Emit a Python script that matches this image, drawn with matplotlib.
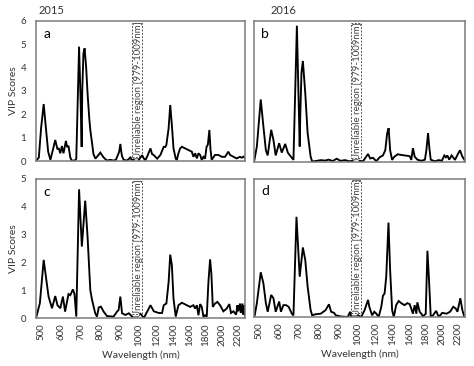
import numpy as np
import matplotlib
matplotlib.use("Agg")
import matplotlib.pyplot as plt
from matplotlib.patches import Rectangle
import matplotlib.transforms as mtransforms

plt.rcParams['font.family'] = ['Lato', 'DejaVu Sans']

nan = float('nan')

# ---------------- data ----------------
wl_a = [480, 492, 503, 516, 527, 538, 549, 562, 573, 584, 590, 598, 606, 614, 626, 632, 639, 648, 655, 672, 678,
        692, 700, 705, 708, 714, 720, 728, 735, 744, 749, 758, 765, 775, 785, 800, 817, 834, 851, 868, 880, 890,
        897, 903, 908, 912, 921, 939, 950, 957, 962, 975, nan,
        1003, 1040, 1059, 1078, 1097, 1133, 1150, 1170, 1208, 1246, 1284, 1303, 1315, 1341, 1360, 1379, 1398,
        1425, 1438, 1458, 1479, 1500, 1539, 1580, 1621, 1641, 1663, 1684, 1704, 1725, 1746, 1766, 1787, 1805,
        1822, 1841, 1855, 1870, 1912, 1954, 1996, 2037, 2077, 2098, 2140, 2180, 2220, 2240, 2265, 2282]
vip_a = [0.02, 0.15, 1.4, 2.44, 1.4, 0.4, 0.05, 0.5, 0.9, 0.5, 0.55, 0.33, 0.64, 0.33, 0.86, 0.6, 0.65, 0.15, 0.02, 0.02, 0.1,
         4.9, 2.5, 0.6, 3.0, 4.6, 4.83, 4.0, 2.9, 1.8, 1.33, 0.76, 0.3, 0.1, 0.2, 0.36, 0.15, 0.02, 0.05, 0.02, 0.05, 0.25,
         0.4, 0.73, 0.4, 0.2, 0.05, 0.02, 0.1, 0.17, 0.05, 0.05, nan,
         0.05, 0.25, 0.1, 0.05, 0.2, 0.54, 0.3, 0.25, 0.1, 0.26, 0.61, 0.6, 0.69, 1.4, 2.4, 1.54, 0.54,
         0.1, 0.04, 0.33, 0.54, 0.61, 0.54, 0.47, 0.4, 0.18, 0.33, 0.11, 0.33, 0.26, 0.04, 0.18, 0.1, 0.6,
         0.7, 1.33, 0.5, 0.05, 0.26, 0.26, 0.18, 0.18, 0.4, 0.26, 0.18, 0.11, 0.18, 0.14, 0.19, 0.12]

wl_b = [480, 492, 511, 524, 536, 545, 562, 573, 584, 601, 614, 631, 644, 659, 672, 689, 703, 706, 712, 719, 731,
        743, 758, 766, 790, 810, 830, 850, 870, 890, 910, 935, 955, 975, nan,
        1022, 1060, 1116, 1140, 1170, 1208, 1245, 1284, 1311, 1333, 1350, 1367, 1390, 1418, 1458, 1500, 1539,
        1600, 1621, 1641, 1663, 1696, 1746, 1790, 1808, 1829, 1845, 1862, 1912, 1960, 2000, 2030, 2050, 2067,
        2090, 2119, 2160, 2200, 2221, 2250, 2275]
vip_b = [0.09, 0.66, 2.66, 1.51, 0.5, 0.28, 1.37, 0.94, 0.28, 0.8, 0.4, 0.77, 0.4, 0.23, 0.09, 5.8, 0.66, 2.0, 3.8, 4.3, 2.94,
         1.23, 0.23, 0.02, 0.05, 0.08, 0.06, 0.1, 0.04, 0.14, 0.05, 0.08, 0.03, 0.05, nan,
         0.05, 0.03, 0.34, 0.15, 0.18, 0.03, 0.2, 0.28, 0.5, 1.23, 1.44, 0.5, 0.09, 0.23, 0.33, 0.3, 0.28,
         0.25, 0.09, 0.59, 0.23, 0.1, 0.05, 0.1, 0.5, 1.23, 0.6, 0.1, 0.03, 0.08, 0.05, 0.28, 0.2, 0.28,
         0.1, 0.28, 0.09, 0.37, 0.5, 0.23, 0.09]

wl_c = [480, 497, 516, 529, 540, 557, 573, 584, 598, 611, 622, 639, 648, 661, 669, 678, 692, 706, 723, 735, 749,
        758, 774, 783, 792, 803, 817, 834, 868, 886, 894, 903, 912, 930, 948, 966, nan,
        1022, 1059, 1133, 1170, 1227, 1265, 1284, 1315, 1341, 1360, 1379, 1398, 1425, 1458, 1500, 1559, 1600,
        1641, 1663, 1684, 1704, 1725, 1746, 1766, 1787, 1808, 1829, 1850, 1866, 1884, 1912, 1941, 1975, 2016,
        2057, 2089, 2110, 2140, 2173, 2189, 2200, 2221, 2230, 2250, 2262, 2274, 2282]
vip_c = [0.05, 0.53, 2.09, 1.37, 0.77, 0.35, 0.79, 0.46, 0.35, 0.77, 0.23, 0.86, 0.82, 1.03, 0.86, 0.05, 4.63, 2.57, 4.22, 2.93, 1.0,
         0.65, 0.17, 0.05, 0.38, 0.41, 0.23, 0.07, 0.05, 0.23, 0.29, 0.77, 0.17, 0.11, 0.17, 0.05, nan,
         0.15, 0.0, 0.46, 0.24, 0.18, 0.18, 0.46, 0.52, 1.29, 2.28, 1.9, 0.7, 0.05, 0.46, 0.55, 0.46, 0.4,
         0.46, 0.34, 0.46, 0.1, 0.5, 0.4, 0.05, 0.1, 0.05, 1.29, 2.11, 1.6, 0.4, 0.52, 0.58, 0.46, 0.24,
         0.34, 0.5, 0.18, 0.24, 0.12, 0.46, 0.24, 0.52, 0.18, 0.52, 0.12, 0.46, 0.1]

wl_d = [480, 492, 511, 524, 536, 545, 562, 573, 584, 601, 610, 622, 635, 648, 664, 672, 687, 703, 719, 731, 743,
        758, 766, 783, 809, 834, 851, 862, 877, 886, 912, 948, 961, 966, nan,
        1003, 1040, 1078, 1116, 1130, 1161, 1185, 1208, 1235, 1265, 1284, 1303, 1322, 1348, 1367, 1390, 1410,
        1438, 1468, 1500, 1539, 1572, 1600, 1620, 1641, 1663, 1684, 1696, 1725, 1745, 1766, 1800, 1821, 1841,
        1862, 1890, 1929, 1962, 2004, 2057, 2100, 2140, 2168, 2190, 2225, 2250, 2275]
vip_d = [0.0, 0.5, 1.62, 1.22, 0.5, 0.19, 0.8, 0.68, 0.19, 0.56, 0.19, 0.43, 0.43, 0.37, 0.12, 0.06, 3.63, 1.46, 2.52, 2.07, 1.1,
         0.25, 0.06, 0.1, 0.12, 0.25, 0.46, 0.19, 0.15, 0.06, 0.02, 0.0, 0.19, 0.02, nan,
         0.06, 0.0, 0.25, 0.62, 0.37, 0.06, 0.19, 0.12, 0.0, 0.37, 0.77, 0.85, 1.46, 3.42, 1.7, 0.25, 0.0,
         0.43, 0.58, 0.5, 0.43, 0.5, 0.47, 0.31, 0.12, 0.43, 0.12, 0.53, 0.19, 0.12, 0.02, 0.12, 2.4, 1.33,
         0.02, 0.06, 0.22, 0.0, 0.15, 0.12, 0.19, 0.37, 0.31, 0.19, 0.68, 0.25, 0.0]

xticks = [500, 600, 700, 800, 900, 1000, 1200, 1400, 1600, 1800, 2000, 2200]
panel_letters = ['a', 'b', 'c', 'd']
years = ['2015', '2016']
unreliable_label = 'Unreliable region [979-1009nm]'
unreliable_range = [966, 1036]

# ---------------- axis scale (uneven band spacing) ----------------
scale_wl = np.array([300, 400, 500, 600, 700, 800, 900, 1000, 1200, 1400, 1600, 1800, 2000, 2200, 2400, 2600])
scale_pos = np.array([-40.6, -20.3, 0, 20.3, 40.3, 60, 79.5, 98.3, 116.3, 133.5, 150, 166, 182, 198.3, 214.6, 230.9])

def fwd(x):
    return np.interp(x, scale_wl, scale_pos)

def inv(p):
    return np.interp(p, scale_pos, scale_wl)

fig = plt.figure(figsize=(4.74, 3.66), dpi=100)

W, H = 474, 366
def rect(l, t, r, b):
    return [l / W, (H - b) / H, (r - l) / W, (b - t) / H]

positions = [rect(36, 21, 245, 161), rect(254, 21, 465, 162),
             rect(36, 179, 245, 318), rect(254, 179, 465, 317)]
series = [(wl_a, vip_a), (wl_b, vip_b), (wl_c, vip_c), (wl_d, vip_d)]
ymax = [6, 6, 5, 5]

spine_col = '#7a7a7a'
for i, (pos, (wl, vip)) in enumerate(zip(positions, series)):
    ax = fig.add_axes(pos)
    ax.set_xscale('function', functions=(fwd, inv))
    ax.plot(wl, vip, color='black', lw=1.35, solid_joinstyle='miter')
    ax.set_xlim(478, 2282)
    ax.set_ylim(0, ymax[i])
    for s in ax.spines.values():
        s.set_color(spine_col)
        s.set_linewidth(1.1)
    ax.set_xticks(xticks)
    ax.set_xticks([], minor=True)
    ax.tick_params(axis='both', length=0, labelsize=7, colors='#333333')
    ax.tick_params(axis='x', pad=4)
    ax.tick_params(axis='y', pad=7)
    if i >= 2:
        ax.set_xticklabels([str(t) for t in xticks], rotation=90)
        ax.set_xlabel('Wavelength (nm)', fontsize=7.5, color='#333333', labelpad=3)
    else:
        ax.set_xticklabels([])
    ax.set_yticks(range(0, ymax[i] + 1))
    if i % 2 == 0:
        ax.set_ylabel('VIP Scores', fontsize=7.5, color='#333333', labelpad=1.5)
    else:
        ax.set_yticklabels([])
    ax.text(0.035, 0.91, panel_letters[i], transform=ax.transAxes, fontsize=10,
            ha='left', va='center', color='black')
    trans = mtransforms.blended_transform_factory(ax.transData, ax.transAxes)
    box = Rectangle((unreliable_range[0], 0.03), unreliable_range[1] - unreliable_range[0], 0.955,
                    transform=trans, fill=False, ls=(0, (2, 1.5)), lw=0.7, edgecolor='#555555')
    ax.add_patch(box)
    ax.text(0.5 * (unreliable_range[0] + unreliable_range[1]), 0.505, unreliable_label, transform=trans,
            rotation=90, ha='center', va='center', fontsize=7, color='#444444')

fig.text(51 / W, 1 - 10 / H, years[0], fontsize=8, ha='center', va='center', color='#333333')
fig.text(283 / W, 1 - 10 / H, years[1], fontsize=8, ha='center', va='center', color='#333333')

fig.savefig('out.png', dpi=100)
